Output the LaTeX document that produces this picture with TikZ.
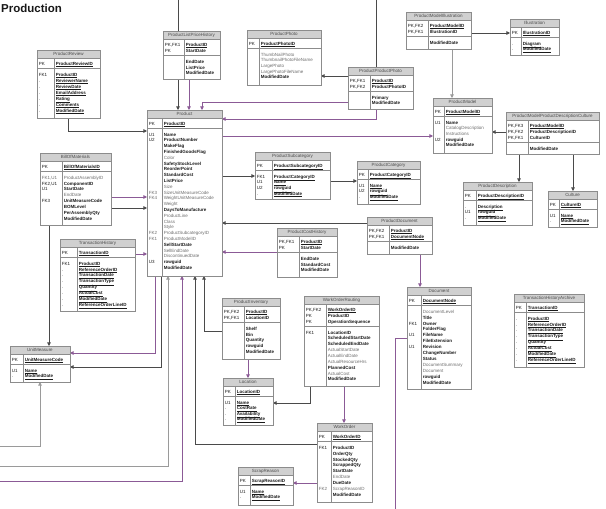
\documentclass[tikz,border=0pt]{standalone}
\usepackage{fontspec}
\setmainfont{Liberation Sans}
\usetikzlibrary{arrows.meta,calc}
\definecolor{hdrfill}{HTML}{D0D0D0}
\definecolor{frm}{HTML}{8C8C8C}
\definecolor{lnk}{HTML}{4A4A4A}
\definecolor{lnkp}{HTML}{8B5A96}
\definecolor{lnkg}{HTML}{9A9A9A}
\definecolor{txt}{HTML}{1A1A1A}
\definecolor{txtg}{HTML}{6E6E6E}
\newcommand{\tfs}{\fontsize{4.5}{5.9}\selectfont}
\newcommand{\fpk}[1]{\underline{\textbf{#1}}}
\newcommand{\fu}[1]{\underline{\textbf{#1}}}
\newcommand{\fb}[1]{\textbf{#1}}
\newcommand{\fg}[1]{\textcolor{txtg}{#1}}
\newcommand{\kg}[1]{\textcolor{txtg}{#1}}
\pgfdeclarelayer{back}
\pgfdeclarelayer{bg}
\pgfsetlayers{back,bg,main}
\tikzset{
  tbox/.style={fill=white, inner sep=0, outer sep=0},
  hdr/.style={fill=hdrfill},
  tline/.style={draw=frm, line width=0.5pt},
  tframe/.style={draw=frm, line width=0.7pt},
  htext/.style={font=\tfs, text=black!70, inner sep=0},
  ktext/.style={anchor=base west, inner sep=0, font=\tfs, text=txt},
  ftext/.style={anchor=base west, inner sep=0, font=\tfs, text=txt},
  lk/.style={draw=lnk, line width=0.8pt},
  lkp/.style={draw=lnkp, line width=0.8pt},
  rel/.style={lk, -{Triangle[length=3.6pt,width=3.6pt]}},
  relp/.style={lkp, -{Triangle[length=3.6pt,width=3.6pt]}},
  relg/.style={draw=lnkg, line width=0.8pt, -{Triangle[length=3.6pt,width=3.6pt]}},
}
% id, x, y, w, h, keycol width, title, number of pk rows
\newcommand{\ertable}[8]{%
  \node[tbox, minimum width=#4pt, minimum height=#5pt, anchor=north west] (#1) at (#2,#3) {};
  \fill[hdr] (#2,#3) rectangle (#2+#4,#3+8);
  \draw[tline] (#2,#3+8) -- (#2+#4,#3+8);
  \draw[tline] (#2,#3+12+6*#8) -- (#2+#4,#3+12+6*#8);
  \draw[tline] (#2+#6,#3+8) -- (#2+#6,#3+#5);
  \draw[tframe] (#1.north west) rectangle (#1.south east);
  \node[htext] (#1-h) at (#2+#4/2,#3+4.3) {#7};
  \coordinate (#1-a) at (#2+1.6,#3+15.1);
  \coordinate (#1-b) at (#2+#6+1.6,#3+15.1);
  \coordinate (#1-c) at (#2+1.6,#3+12+6*#8+8.1);
  \coordinate (#1-d) at (#2+#6+1.6,#3+12+6*#8+8.1);
}
\newcommand{\pkrows}[2]{%
  \foreach \k/\f [count=\i from 0] in {#2} {
    \node[ktext] (#1-pk\i) at ($(#1-a)+(0,6*\i)$) {\k};
    \node[ftext] (#1-pf\i) at ($(#1-b)+(0,6*\i)$) {\f};
  }}
\newcommand{\bodyrows}[3]{%
  \foreach \k/\f [count=\i from 0] in {#3} {
    \node[ktext] (#1-bk\i) at ($(#1-c)+(0,#2*\i)$) {\k};
    \node[ftext] (#1-bf\i) at ($(#1-d)+(0,#2*\i)$) {\f};
  }}
\begin{document}
\begin{tikzpicture}[x=1pt,y=-1pt]
\begin{pgfonlayer}{back}
\fill[white] (0,0) rectangle (606,509);
\end{pgfonlayer}
\useasboundingbox (0,0) rectangle (606,509);

\node[anchor=north west, inner sep=0, font=\fontsize{11.5}{13}\selectfont\bfseries, text=black!90] (ttl) at (1,3.5) {Production};

% ---------------- tables ----------------
\ertable{pr}{37}{50}{63}{68}{17}{ProductReview}{1}
\pkrows{pr}{PK/\fpk{ProductReviewID}}
\bodyrows{pr}{6.0}{FK1/\fu{ProductID}, ./\fu{ReviewerName}, ./\fu{ReviewDate}, ./\fu{EmailAddress}, ./\fu{Rating}, ./\fu{Comments}, ./\fu{ModifiedDate}}

\ertable{plph}{163}{31}{57}{48}{21}{ProductListPriceHistory}{2}
\pkrows{plph}{{PK,FK1}/\fpk{ProductID}, PK/\fb{StartDate}}
\bodyrows{plph}{5.9}{{}/\fb{EndDate}, {}/\fb{ListPrice}, {}/\fb{ModifiedDate}}

\ertable{pp}{247}{30}{74}{55}{12}{ProductPhoto}{1}
\pkrows{pp}{PK/\fpk{ProductPhotoID}}
\bodyrows{pp}{5.7}{{}/\fg{ThumbNailPhoto}, {}/\fg{ThumbnailPhotoFileName}, {}/\fg{LargePhoto}, {}/\fg{LargePhotoFileName}, {}/\fb{ModifiedDate}}

\ertable{ppp}{348}{67}{65}{42}{22}{ProductProductPhoto}{2}
\pkrows{ppp}{{PK,FK1}/\fpk{ProductID}, {PK,FK2}/\fb{ProductPhotoID}}
\bodyrows{ppp}{5.5}{{}/\fb{Primary}, {}/\fb{ModifiedDate}}

\ertable{pmi}{406}{12}{65}{37}{22}{ProductModelIllustration}{2}
\pkrows{pmi}{{PK,FK2}/\fpk{ProductModelID}, {PK,FK1}/\fb{IllustrationID}}
\bodyrows{pmi}{6}{{}/\fb{ModifiedDate}}

\ertable{ill}{510}{19}{49}{36}{11}{Illustration}{1}
\pkrows{ill}{PK/\fpk{IllustrationID}}
\bodyrows{ill}{5.5}{./\fu{Diagram}, ./\fu{ModifiedDate}}

\ertable{pm}{433}{98}{59}{55}{11}{ProductModel}{1}
\pkrows{pm}{PK/\fpk{ProductModelID}}
\bodyrows{pm}{5.7}{U1/\fb{Name}, {}/\fg{CatalogDescription}, {}/\fg{Instructions}, U2/\fb{rowguid}, {}/\fb{ModifiedDate}}

\ertable{pmpdc}{506}{112}{93}{42}{22}{ProductModelProductDescriptionCulture}{3}
\pkrows{pmpdc}{{PK,FK3}/\fpk{ProductModelID}, {PK,FK2}/\fb{ProductDescriptionID}, {PK,FK1}/\fb{CultureID}}
\bodyrows{pmpdc}{6}{{}/\fb{ModifiedDate}}

\ertable{pd}{463}{182}{69}{43}{13}{ProductDescription}{1}
\pkrows{pd}{PK/\fpk{ProductDescriptionID}}
\bodyrows{pd}{5.6}{./\fu{Description}, U1/\fu{rowguid}, ./\fu{ModifiedDate}}

\ertable{cu}{548}{191}{49}{36}{11}{Culture}{1}
\pkrows{cu}{PK/\fpk{CultureID}}
\bodyrows{cu}{5.6}{U1/\fu{Name}, ./\fu{ModifiedDate}}

\ertable{prod}{147}{110}{75}{166}{15}{Product}{1}
\pkrows{prod}{PK/\fpk{ProductID}}
\bodyrows{prod}{5.8}{U1/\fb{Name}, U2/\fb{ProductNumber}, {}/\fb{MakeFlag}, {}/\fb{FinishedGoodsFlag}, {}/\fg{Color}, {}/\fb{SafetyStockLevel}, {}/\fb{ReorderPoint}, {}/\fb{StandardCost}, {}/\fb{ListPrice}, {}/\fg{Size}, \kg{FK3}/\fg{SizeUnitMeasureCode}, \kg{FK4}/\fg{WeightUnitMeasureCode}, {}/\fg{Weight}, {}/\fb{DaysToManufacture}, {}/\fg{ProductLine}, {}/\fg{Class}, {}/\fg{Style}, \kg{FK2}/\fg{ProductSubcategoryID}, \kg{FK1}/\fg{ProductModelID}, {}/\fb{SellStartDate}, {}/\fg{SellEndDate}, {}/\fg{DiscontinuedDate}, U3/\fb{rowguid}, {}/\fb{ModifiedDate}}

\ertable{bom}{40}{153}{71}{72}{22}{BillOfMaterials}{1}
\pkrows{bom}{PK/\fpk{BillOfMaterialsID}}
\bodyrows{bom}{5.9}{\kg{FK1,U1}/\fg{ProductAssemblyID}, {FK2,U1}/\fb{ComponentID}, U1/\fb{StartDate}, {}/\fg{EndDate}, FK3/\fb{UnitMeasureCode}, {}/\fb{BOMLevel}, {}/\fb{PerAssemblyQty}, {}/\fb{ModifiedDate}}

\ertable{th}{60}{239}{75}{72}{17}{TransactionHistory}{1}
\pkrows{th}{PK/\fpk{TransactionID}}
\bodyrows{th}{5.9}{FK1/\fu{ProductID}, ./\fu{ReferenceOrderID}, ./\fu{TransactionDate}, ./\fu{TransactionType}, ./\fu{Quantity}, ./\fu{ActualCost}, ./\fu{ModifiedDate}, ./\fu{ReferenceOrderLineID}}

\ertable{um}{10}{346}{60}{36}{13}{UnitMeasure}{1}
\pkrows{um}{PK/\fpk{UnitMeasureCode}}
\bodyrows{um}{5.5}{U1/\fu{Name}, ./\fu{ModifiedDate}}

\ertable{psc}{255}{152}{75}{47}{17}{ProductSubcategory}{1}
\pkrows{psc}{PK/\fpk{ProductSubcategoryID}}
\bodyrows{psc}{5.7}{FK1/\fu{ProductCategoryID}, U1/\fu{Name}, U2/\fu{rowguid}, ./\fu{ModifiedDate}}

\ertable{pc}{357}{161}{63}{43}{11}{ProductCategory}{1}
\pkrows{pc}{PK/\fpk{ProductCategoryID}}
\bodyrows{pc}{5.6}{U1/\fu{Name}, U2/\fu{rowguid}, ./\fu{ModifiedDate}}

\ertable{pdoc}{367}{217}{65}{37}{22}{ProductDocument}{2}
\pkrows{pdoc}{{PK,FK2}/\fpk{ProductID}, {PK,FK1}/\fpk{DocumentNode}}
\bodyrows{pdoc}{6}{{}/\fb{ModifiedDate}}

\ertable{pch}{277}{228}{60}{49}{22}{ProductCostHistory}{2}
\pkrows{pch}{{PK,FK1}/\fpk{ProductID}, PK/\fb{StartDate}}
\bodyrows{pch}{5.9}{{}/\fb{EndDate}, {}/\fb{StandardCost}, {}/\fb{ModifiedDate}}

\ertable{pinv}{222}{298}{58}{61}{22}{ProductInventory}{2}
\pkrows{pinv}{{PK,FK2}/\fpk{ProductID}, {PK,FK1}/\fb{LocationID}}
\bodyrows{pinv}{5.9}{{}/\fb{Shelf}, {}/\fb{Bin}, {}/\fb{Quantity}, {}/\fb{rowguid}, {}/\fb{ModifiedDate}}

\ertable{wor}{304}{296}{75}{90}{22}{WorkOrderRouting}{3}
\pkrows{wor}{{PK,FK2}/\fpk{WorkOrderID}, PK/\fb{ProductID}, PK/\fb{OperationSequence}}
\bodyrows{wor}{5.85}{FK1/\fb{LocationID}, {}/\fb{ScheduledStartDate}, {}/\fb{ScheduledEndDate}, {}/\fg{ActualStartDate}, {}/\fg{ActualEndDate}, {}/\fg{ActualResourceHrs}, {}/\fb{PlannedCost}, {}/\fg{ActualCost}, {}/\fb{ModifiedDate}}

\ertable{loc}{223}{378}{50}{47}{12}{Location}{1}
\pkrows{loc}{PK/\fpk{LocationID}}
\bodyrows{loc}{5.5}{U1/\fu{Name}, ./\fu{CostRate}, ./\fu{Availability}, ./\fu{ModifiedDate}}

\ertable{wo}{317}{423}{55}{79}{14}{WorkOrder}{1}
\pkrows{wo}{PK/\fpk{WorkOrderID}}
\bodyrows{wo}{5.95}{FK1/\fb{ProductID}, {}/\fb{OrderQty}, {}/\fb{StockedQty}, {}/\fb{ScrappedQty}, {}/\fb{StartDate}, {}/\fg{EndDate}, {}/\fb{DueDate}, \kg{FK2}/\fg{ScrapReasonID}, {}/\fb{ModifiedDate}}

\ertable{sr}{238}{467}{55}{38}{12}{ScrapReason}{1}
\pkrows{sr}{PK/\fpk{ScrapReasonID}}
\bodyrows{sr}{5.5}{U1/\fu{Name}, ./\fu{ModifiedDate}}

\ertable{doc}{407}{287}{64}{102}{14}{Document}{1}
\pkrows{doc}{PK/\fpk{DocumentNode}}
\bodyrows{doc}{5.95}{{}/\fg{DocumentLevel}, {}/\fb{Title}, FK1/\fb{Owner}, {}/\fb{FolderFlag}, U1/\fb{FileName}, {}/\fb{FileExtension}, U1/\fb{Revision}, {}/\fb{ChangeNumber}, {}/\fb{Status}, {}/\fg{DocumentSummary}, {}/\fg{Document}, {}/\fb{rowguid}, {}/\fb{ModifiedDate}}

\ertable{tha}{514}{294}{70}{73}{12}{TransactionHistoryArchive}{1}
\pkrows{tha}{PK/\fpk{TransactionID}}
\bodyrows{tha}{5.9}{./\fu{ProductID}, ./\fu{ReferenceOrderID}, ./\fu{TransactionDate}, ./\fu{TransactionType}, ./\fu{Quantity}, ./\fu{ActualCost}, ./\fu{ModifiedDate}, ./\fu{ReferenceOrderLineID}}

% ---------------- connectors ----------------
\coordinate (v178) at (178,0);
\coordinate (v189) at (189,0);
\coordinate (v376) at (376,0);
\coordinate (j102) at (202,102);
\coordinate (j119) at (376,119);
\coordinate (h76) at (0,76);
\coordinate (h33) at (0,33);
\coordinate (v452) at (452,0);
\coordinate (h132) at (0,132);
\coordinate (v519) at (519,0);
\coordinate (v573) at (573,0);
\coordinate (h136) at (0,136);
\coordinate (h176) at (0,176);
\coordinate (h181) at (0,181);
\coordinate (h223) at (0,223);
\coordinate (h252) at (0,252);
\coordinate (v420) at (420,0);
\coordinate (j131) at (68,131);
\coordinate (h197) at (0,197);
\coordinate (h208) at (0,208);
\coordinate (v49) at (49,0);
\coordinate (h254) at (0,254);
\coordinate (j353) at (155,353);
\coordinate (j367) at (161,367);
\coordinate (e446) at (0,446);
\coordinate (j446) at (40,446);
\coordinate (e466) at (0,466);
\coordinate (j466) at (168,466);
\coordinate (e481) at (0,481);
\coordinate (j481) at (182,481);
\coordinate (j444) at (195,444);
\coordinate (j331) at (204,331);
\coordinate (v248) at (248,0);
\coordinate (j403) at (310,403);
\coordinate (v344) at (344,0);
\coordinate (h483) at (0,483);
\coordinate (j338) at (395,338);
\coordinate (e509) at (395,509);

\begin{pgfonlayer}{bg}
\draw[lk] (v178) -- (v178 |- plph.north);
\draw[rel] (plph.south -| v178) -- (prod.north -| v178);
\draw[relp] (plph.south -| v189) -- (prod.north -| v189);
\draw[lk] (v376) -- (v376 |- ppp.north);
\draw[relp] (ppp.west |- j102) -- (j102) -- (prod.north -| j102);
\draw[relp] (ppp.south -| j119) -- (j119) -- (prod.east |- j119);
\draw[rel] (ppp.west |- h76) -- (pp.east |- h76);
\draw[rel] (pmi.east |- h33) -- (ill.west |- h33);
\draw[relg] (pmi.south -| v452) -- (pm.north -| v452);
\draw[rel] (pmpdc.west |- h132) -- (pm.east |- h132);
\draw[rel] (pmpdc.south -| v519) -- (pd.north -| v519);
\draw[rel] (pmpdc.south -| v573) -- (cu.north -| v573);
\draw[relp] (prod.east |- h136) -- (pm.west |- h136);
\draw[rel] (prod.east |- h176) -- (psc.west |- h176);
\draw[rel] (psc.east |- h181) -- (pc.west |- h181);
\draw[rel] (pdoc.west |- h223) -- (prod.east |- h223);
\draw[relp] (pch.west |- h252) -- (prod.east |- h252);
\draw[relp] (pdoc.south -| v420) -- (doc.north -| v420);
\draw[rel] (pr.south -| j131) -- (j131) -- (prod.west |- j131);
\draw[relp] (bom.east |- h197) -- (prod.west |- h197);
\draw[rel] (bom.east |- h208) -- (prod.west |- h208);
\draw[rel] (bom.south -| v49) -- (um.north -| v49);
\draw[relp] (th.east |- h254) -- (prod.west |- h254);
\draw[relp] (prod.south -| j353) -- (j353) -- (um.east |- j353);
\draw[rel] (prod.south -| j367) -- (j367) -- (um.east |- j367);
\draw[relg] (e446) -- (j446) -- (um.south -| j446);
\draw[relg] (e466) -- (j466) -- (prod.south -| j466);
\draw[relp] (e481) -- (j481) -- (prod.south -| j481);
\draw[rel] (wo.west |- j444) -- (j444) -- (prod.south -| j444);
\draw[rel] (pinv.west |- j331) -- (j331) -- (prod.south -| j331);
\draw[relp] (pinv.south -| v248) -- (loc.north -| v248);
\draw[rel] (wor.south -| j403) -- (j403) -- (loc.east |- j403);
\draw[relp] (wor.south -| v344) -- (wo.north -| v344);
\draw[relp] (wo.west |- h483) -- (sr.east |- h483);
\draw[lkp] (doc.west |- j338) -- (j338) -- (e509);
\end{pgfonlayer}
\end{tikzpicture}
\end{document}
